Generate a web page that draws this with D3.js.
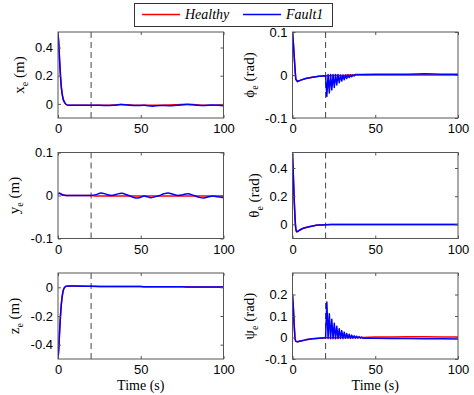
<!DOCTYPE html>
<html>
<head>
<meta charset="utf-8">
<script src="https://cdn.jsdelivr.net/npm/d3@7"></script>
<style>
  body { margin: 0; background: #fff; }
  svg { display: block; }
</style>
</head>
<body>
<div id="chart"></div>
<script>
// ---- data ----
var seriesNames = ['Healthy', 'Fault1'];
var timeTicks = [0, 50, 100];
var faultTime = 20;

var xT       = [0, 0.5, 1, 1.5, 2, 3, 4, 5, 6, 8, 10, 15, 20, 25, 30, 34, 38, 42, 47, 52, 57, 62, 67, 72, 78, 83, 88, 93, 97, 100];
var xHealthy = [0.5, 0.42, 0.3, 0.2, 0.12, 0.04, 0.01, -0.004, -0.009, -0.01, -0.01, -0.01, -0.01, -0.01, -0.01, -0.008, -0.004, -0.006, -0.009, -0.01, -0.01, -0.009, -0.008, -0.006, -0.003, -0.006, -0.01, -0.01, -0.008, -0.007];
var xFault   = [0.5, 0.42, 0.3, 0.2, 0.12, 0.04, 0.01, -0.004, -0.009, -0.01, -0.01, -0.01, -0.01, -0.01, -0.012, -0.009, -0.005, -0.008, -0.011, -0.01, -0.016, -0.011, -0.013, -0.009, -0.004, -0.008, -0.011, -0.007, -0.009, -0.014];
var xTicks   = [0, 0.2, 0.4];

var yT       = [0, 1, 2, 3, 5, 8, 12, 16, 20, 23, 26, 29, 32.5, 35.5, 38.5, 42, 47, 50, 52, 54, 56, 58.5, 61.5, 64, 66.5, 69.5, 72.5, 75.5, 78.5, 82, 85, 88, 91, 93.5, 96.5, 100];
var yHealthy = [0.004, 0.005, 0.003, 0.001, 0, 0, 0, 0, 0, -0.001, -0.001, -0.001, -0.001, -0.001, -0.001, -0.001, -0.001, -0.001, -0.001, -0.001, -0.001, -0.001, -0.001, -0.001, -0.001, -0.001, -0.001, -0.001, -0.001, -0.001, -0.001, -0.001, -0.001, -0.001, -0.001, -0.001];
var yFault   = [0.004, 0.005, 0.003, 0.001, 0, 0, 0, 0, 0, 0.002, 0.006, 0.003, 0, 0.003, 0.005, 0.001, -0.006, -0.004, -0.001, -0.003, -0.005, -0.003, 0, 0.004, 0.006, 0.003, 0, 0.002, 0.004, 0, -0.004, -0.006, -0.003, -0.001, -0.003, -0.005];
var yTicks   = [-0.1, 0, 0.1];

var zT       = [0, 0.5, 1, 1.5, 2, 3, 4, 5, 7, 10, 20, 30, 40, 50, 60, 70, 80, 90, 100];
var zHealthy = [-0.5, -0.42, -0.3, -0.2, -0.12, -0.03, 0, 0.008, 0.01, 0.009, 0.007, 0.006, 0.005, 0.005, 0.004, 0.004, 0.003, 0.003, 0.003];
var zFault   = [-0.5, -0.42, -0.3, -0.2, -0.12, -0.03, 0, 0.008, 0.01, 0.009, 0.007, 0.006, 0.005, 0.005, 0.004, 0.004, 0.003, 0.003, 0.003];
var zTicks   = [-0.4, -0.2, 0];

var phiT       = [0, 0.5, 1, 1.5, 2, 3, 5, 8, 12, 16, 20,
                  20.75, 21.5, 22.25, 23, 23.75, 24.5, 25.25, 26, 26.75, 27.5, 28.25, 29, 29.75, 30.5, 31.25, 32, 32.75, 33.5, 34.25, 35, 35.75, 36.5, 37.25, 38,
                  42, 50, 60, 70, 80, 90, 100];
var phiHealthy = [0.1, 0.075, 0.045, 0.015, -0.01, -0.015, -0.012, -0.008, -0.005, -0.003, -0.002,
                  -0.002, -0.002, -0.002, -0.002, -0.001, -0.001, -0.001, -0.001, -0.001, -0.001, -0.001, -0.001, -0.001, -0.001, -0.001, -0.001, 0, 0, 0, 0, 0, 0, 0, 0,
                  0, 0, 0, 0, 0, 0, 0];
var phiFault   = [0.1, 0.075, 0.045, 0.015, -0.01, -0.015, -0.012, -0.008, -0.005, -0.003, -0.002,
                  -0.05, 0.001, -0.042, 0.001, -0.035, 0.001, -0.029, 0.001, -0.023, 0.001, -0.018, 0, -0.014, 0, -0.011, 0, -0.008, 0, -0.006, 0, -0.004, 0, -0.002, 0.001,
                  0.001, 0.002, 0.002, 0.002, 0.003, 0.002, 0.002];
var phiTicks   = [-0.1, 0, 0.1];

var thetaT       = [0, 0.5, 1, 1.5, 2, 2.5, 3, 4, 5, 7, 10, 13, 16, 20, 25, 30, 40, 60, 80, 100];
var thetaHealthy = [0.5, 0.35, 0.18, 0.05, -0.03, -0.052, -0.05, -0.043, -0.036, -0.026, -0.016, -0.009, -0.005, -0.002, -0.001, 0, 0, 0, 0, 0];
var thetaFault   = [0.5, 0.35, 0.18, 0.05, -0.03, -0.052, -0.05, -0.043, -0.036, -0.026, -0.016, -0.009, -0.005, -0.002, -0.001, 0, 0, 0, 0, 0];
var thetaTicks   = [0, 0.2, 0.4];

var psiT       = [0, 0.5, 1, 1.5, 2, 3, 5, 8, 12, 16, 20,
                  20.75, 21.5, 22.25, 23, 23.75, 24.5, 25.25, 26, 26.75, 27.5, 28.25, 29, 29.75, 30.5, 31.25, 32, 32.75, 33.5, 34.25, 35,
                  35.75, 36.5, 37.25, 38, 38.75, 39.5, 40.25, 41, 41.75, 42.5,
                  46, 50, 60, 70, 80, 90, 100];
var psiHealthy = [0.2, 0.14, 0.06, -0.005, -0.018, -0.02, -0.016, -0.011, -0.006, -0.003, -0.001,
                  -0.001, -0.001, -0.001, -0.001, -0.001, -0.001, -0.001, -0.001, -0.001, -0.001, 0, 0, 0, 0, 0, 0, 0, 0, 0, 0,
                  0, 0, 0, 0, 0, 0, 0, 0, 0, 0,
                  0.001, 0.002, 0.002, 0.003, 0.003, 0.002, 0.002];
var psiFault   = [0.2, 0.14, 0.06, -0.005, -0.018, -0.02, -0.016, -0.011, -0.006, -0.003, -0.001,
                  0.165, -0.005, 0.11, -0.006, 0.085, -0.006, 0.066, -0.006, 0.052, -0.005, 0.041, -0.005, 0.032, -0.005, 0.025, -0.004, 0.019, -0.004, 0.015, -0.004,
                  0.011, -0.003, 0.008, -0.003, 0.006, -0.003, 0.004, -0.003, 0.002, -0.003,
                  -0.003, -0.004, -0.005, -0.005, -0.006, -0.006, -0.007];
var psiTicks   = [-0.1, 0, 0.1, 0.2];

// ---- layout ----
var W = 474, H = 395;
var colX = [58, 292.5], colW = 165.5;
var rowY = [32, 152.5, 273], rowH = 86;
var colors = ['#ff0000', '#0000ff'];
var sansFont = '"Liberation Sans", Arial, sans-serif';
var serifFont = '"Liberation Serif", "Times New Roman", serif';
var axisColor = '#555';

var panels = [
  { t: xT, healthy: xHealthy, fault: xFault, ticks: xTicks, domain: [-0.1, 0.51], sym: 'x', unit: '(m)', col: 0, row: 0, lx: -34, curve: d3.curveMonotoneX },
  { t: phiT, healthy: phiHealthy, fault: phiFault, ticks: phiTicks, domain: [-0.1, 0.1], sym: '\u03d5', unit: '(rad)', col: 1, row: 0, lx: -39, curve: d3.curveLinear },
  { t: yT, healthy: yHealthy, fault: yFault, ticks: yTicks, domain: [-0.1, 0.1], sym: 'y', unit: '(m)', col: 0, row: 1, lx: -39, curve: d3.curveCatmullRom },
  { t: thetaT, healthy: thetaHealthy, fault: thetaFault, ticks: thetaTicks, domain: [-0.1, 0.51], sym: '\u03b8', unit: '(rad)', col: 1, row: 1, lx: -34, curve: d3.curveMonotoneX },
  { t: zT, healthy: zHealthy, fault: zFault, ticks: zTicks, domain: [-0.5, 0.1], sym: 'z', unit: '(m)', col: 0, row: 2, lx: -39, curve: d3.curveMonotoneX },
  { t: psiT, healthy: psiHealthy, fault: psiFault, ticks: psiTicks, domain: [-0.1, 0.3], sym: '\u03c8', unit: '(rad)', col: 1, row: 2, lx: -39, curve: d3.curveLinear }
];

var svg = d3.select('#chart')
  .append('svg')
  .attr('width', W)
  .attr('height', H);

svg.append('rect').attr('width', W).attr('height', H).attr('fill', '#fff');

function styleAxis(g){
  g.select('.domain').remove();
  g.selectAll('.tick line').attr('stroke', axisColor);
  g.selectAll('.tick text')
    .attr('fill', '#000')
    .attr('font-family', sansFont)
    .attr('font-size', 13);
}

panels.forEach(function(p, i){
  var x0 = colX[p.col], y0 = rowY[p.row];
  var g = svg.append('g').attr('transform', 'translate(' + x0 + ',' + y0 + ')');
  var x = d3.scaleLinear().domain([0, 100]).range([0, colW]);
  var y = d3.scaleLinear().domain(p.domain).range([rowH, 0]);

  g.append('clipPath').attr('id', 'clip' + i)
    .append('rect').attr('width', colW).attr('height', rowH);

  // fault instant
  g.append('line')
    .attr('x1', x(faultTime)).attr('x2', x(faultTime))
    .attr('y1', 0).attr('y2', rowH)
    .attr('stroke', '#444')
    .attr('stroke-width', 1)
    .attr('stroke-dasharray', '6,4');

  var line = d3.line()
    .curve(p.curve)
    .x(function(d){ return x(d[0]); })
    .y(function(d){ return y(d[1]); });

  [p.healthy, p.fault].forEach(function(vals, k){
    g.append('path')
      .datum(p.t.map(function(t, j){ return [t, vals[j]]; }))
      .attr('clip-path', 'url(#clip' + i + ')')
      .attr('fill', 'none')
      .attr('stroke', colors[k])
      .attr('stroke-width', 1.5)
      .attr('stroke-linejoin', 'round')
      .attr('d', line);
  });

  var fmt = function(d){ return String(d); };

  g.append('g').attr('transform', 'translate(0,' + rowH + ')')
    .call(d3.axisBottom(x).tickValues(timeTicks).tickSizeInner(-3).tickSizeOuter(0).tickPadding(6).tickFormat(fmt))
    .call(styleAxis);
  g.append('g')
    .call(d3.axisTop(x).tickValues(timeTicks).tickSizeInner(-3).tickSizeOuter(0).tickFormat(''))
    .call(styleAxis);
  g.append('g')
    .call(d3.axisLeft(y).tickValues(p.ticks).tickSizeInner(-3).tickSizeOuter(0).tickPadding(5).tickFormat(fmt))
    .call(styleAxis);
  g.append('g').attr('transform', 'translate(' + colW + ',0)')
    .call(d3.axisRight(y).tickValues(p.ticks).tickSizeInner(-3).tickSizeOuter(0).tickFormat(''))
    .call(styleAxis);

  g.append('rect')
    .attr('width', colW).attr('height', rowH)
    .attr('fill', 'none')
    .attr('stroke', axisColor)
    .attr('stroke-width', 1);

  // y label
  var lab = g.append('text')
    .attr('transform', 'translate(' + p.lx + ',' + (rowH / 2) + ') rotate(-90)')
    .attr('text-anchor', 'middle')
    .attr('font-family', serifFont)
    .attr('font-size', 15)
    .attr('fill', '#000');
  lab.append('tspan').text(p.sym);
  lab.append('tspan').attr('dy', 4).attr('font-size', 10).text('e');
  lab.append('tspan').attr('dy', -4).text('\u00a0' + p.unit);

  if (p.row === 2) {
    g.append('text')
      .attr('x', colW / 2).attr('y', rowH + 31)
      .attr('text-anchor', 'middle')
      .attr('font-family', serifFont)
      .attr('font-size', 14)
      .attr('fill', '#000')
      .text('Time (s)');
  }
});

// legend
var leg = svg.append('g');
leg.append('rect')
  .attr('x', 134.5).attr('y', 3.5).attr('width', 198).attr('height', 23)
  .attr('fill', '#fff').attr('stroke', '#333').attr('stroke-width', 1);
var legX = [142, 243];
seriesNames.forEach(function(name, k){
  leg.append('line')
    .attr('x1', legX[k]).attr('x2', legX[k] + 38)
    .attr('y1', 14.5).attr('y2', 14.5)
    .attr('stroke', colors[k]).attr('stroke-width', 1.5);
  leg.append('text')
    .attr('x', legX[k] + 43).attr('y', 19)
    .attr('font-family', serifFont)
    .attr('font-style', 'italic')
    .attr('font-size', 14)
    .attr('fill', '#000')
    .text(name);
});
</script>
</body>
</html>
